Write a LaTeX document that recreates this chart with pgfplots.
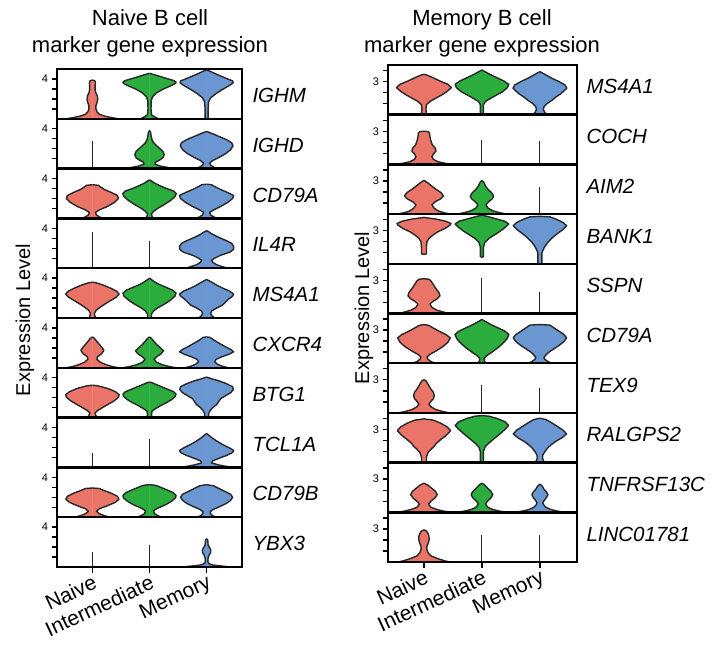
\documentclass[border=0pt]{standalone}
\usepackage{pgfplots}
\pgfplotsset{compat=1.18}
\usepackage{fontspec}
\setmainfont{Liberation Sans}
\definecolor{cR}{RGB}{235,116,104}
\definecolor{cG}{RGB}{42,173,60}
\definecolor{cB}{RGB}{106,150,210}
\definecolor{cO}{RGB}{40,40,40}
\newcommand\ws{57}
\pgfplotsset{
  vout/.style={draw=cO, line width=1.4pt, line join=round, mark=none},
  common/.style={scale only axis, anchor=south west, axis on top, ymin=0,
    xtick=\empty, ytick pos=left, xtick pos=left, tick align=outside,
    major tick length=5.5pt, minor tick length=5.5pt,
    tick style={black, line width=1.4pt},
    axis line style={black, line width=2.4pt},
    every outer x axis line/.append style={line width=2.4pt},
    every outer y axis line/.append style={line width=2.4pt},
    yticklabel style={font=\fontsize{11}{12}\selectfont},
    /pgf/number format/assume math mode=true},
  Lp/.style={common, width=185pt, height=49.8pt, xmin=0.38, xmax=3.62, ymax=5,
    ytick={4}, yticklabels={4}, minor ytick={1,2,3}},
  Rp/.style={common, width=189pt, height=49.7pt, xmin=0.38, xmax=3.64, ymax=4.5,
    ytick={3}, yticklabels={3}, minor ytick={1,2,4}},
  bot/.style={xtick={1,2,3}, xticklabels={Naive,Intermediate,Memory},
    xticklabel style={rotate=25, anchor=north east, inner sep=1pt, font=\fontsize{21}{23}\selectfont}}
}
\newcommand\vio[3]{%
 \addplot[fill=#2, draw=#2, line width=0.3pt] table[row sep=\\, x expr={#1+\thisrow{w}/\ws}, y=y]{y w\\#3} -- cycle;
 \addplot[fill=#2, draw=#2, line width=0.3pt] table[row sep=\\, x expr={#1-\thisrow{w}/\ws}, y=y]{y w\\#3} -- cycle;
 \addplot[vout] table[row sep=\\, x expr={#1+\thisrow{w}/\ws}, y=y]{y w\\#3};
 \addplot[vout] table[row sep=\\, x expr={#1-\thisrow{w}/\ws}, y=y]{y w\\#3};
}
\newcommand\vl[2]{\addplot[vout, line width=1.1pt] coordinates {(#1,0) (#1,#2)};}
\begin{document}
\begin{tikzpicture}
\useasboundingbox (0,0) rectangle (722pt,649pt);
% ---------------- left column ----------------
\begin{axis}[Lp, at={(57pt,530.2pt)}]
\vio{1}{cR}{0 0\\0 26\\0.1 20\\0.25 13\\0.45 7\\0.7 4.5\\1.0 3.5\\1.3 3.5\\1.6 4.5\\1.9 5.3\\2.3 5\\2.6 3.5\\2.9 2.7\\3.3 2.7\\3.6 3\\3.8 2.5\\3.9 0\\}
\vio{2}{cG}{0 0\\0 9\\0.15 6\\0.4 2\\1.0 1.5\\1.8 1.7\\2.2 3\\2.6 7\\3.0 14\\3.3 21\\3.55 26\\3.7 26.5\\3.85 24\\4.05 17\\4.3 9\\4.45 4\\4.57 0\\}
\vio{3}{cB}{0 0\\0 1.5\\1.0 1.5\\1.7 2\\2.1 4\\2.5 9\\2.9 15\\3.3 22\\3.6 26.5\\3.8 26\\4.0 21\\4.3 14\\4.6 7\\4.8 3\\4.9 0\\}
\end{axis}
\begin{axis}[Lp, at={(57pt,480.4pt)}]
\vl{1}{2.73}
\vio{2}{cG}{0 0\\0 25.5\\0.1 19\\0.25 11\\0.45 5.5\\0.65 6\\0.85 10\\1.1 13.5\\1.4 14.7\\1.7 13.5\\2.0 10.5\\2.3 7\\2.6 4\\2.9 2.5\\3.3 1.6\\3.6 1.2\\3.83 0\\}
\vio{3}{cB}{0 0\\0 11\\0.15 7\\0.35 4\\0.55 3\\0.8 6\\1.1 12\\1.5 19\\1.9 24\\2.3 26.3\\2.6 25\\2.9 20\\3.2 13\\3.5 6\\3.73 0\\}
\end{axis}
\begin{axis}[Lp, at={(57pt,430.6pt)}]
\vio{1}{cR}{0 0\\0 11\\0.15 7\\0.35 4\\0.6 3\\0.85 7\\1.2 15\\1.6 22\\2.0 26\\2.3 25\\2.6 19\\2.9 12\\3.2 7.5\\3.32 6\\3.38 0\\}
\vio{2}{cG}{0 0\\0 4\\0.2 2.5\\0.45 2\\0.7 4\\1.0 8\\1.4 15\\1.8 21\\2.2 25.5\\2.5 26.7\\2.75 24\\3.0 17\\3.3 10\\3.55 5\\3.75 2\\3.87 0\\}
\vio{3}{cB}{0 0\\0 11\\0.15 7\\0.35 4\\0.6 3\\0.85 7\\1.2 14\\1.6 21\\2.0 26\\2.3 27\\2.6 21\\2.9 14\\3.2 8\\3.38 5\\3.43 0\\}
\end{axis}
\begin{axis}[Lp, at={(57pt,380.8pt)}]
\vl{1}{3.6}
\vl{2}{2.77}
\vio{3}{cB}{0 0\\0 21\\0.15 16\\0.35 10\\0.6 6\\0.8 5\\1.0 8\\1.3 14\\1.6 23\\1.9 27\\2.2 27\\2.5 25\\2.8 19\\3.1 12\\3.4 6\\3.6 3\\3.77 0\\}
\end{axis}
\begin{axis}[Lp, at={(57pt,331.0pt)}]
\vio{1}{cR}{0 0\\0 3\\0.2 2.5\\0.5 2\\0.8 4\\1.1 8\\1.5 14\\1.8 19\\2.1 24\\2.4 26.7\\2.7 24\\3.0 18\\3.3 11\\3.5 5\\3.6 0\\}
\vio{2}{cG}{0 0\\0 2\\0.4 2\\0.7 4\\1.0 8\\1.4 15\\1.8 21\\2.2 25.5\\2.5 26.5\\2.8 23\\3.1 16\\3.4 9\\3.7 4\\3.85 2\\4.0 0\\}
\vio{3}{cB}{0 0\\0 8\\0.2 5.5\\0.45 4\\0.7 5\\1.0 10\\1.3 16\\1.6 19\\1.9 22\\2.2 26\\2.4 27\\2.7 23\\3.0 16\\3.3 10\\3.6 5\\3.87 0\\}
\end{axis}
\begin{axis}[Lp, at={(57pt,281.2pt)}]
\vio{1}{cR}{0 0\\0 26.5\\0.12 20\\0.3 14\\0.55 8\\0.85 4.5\\1.1 5\\1.4 9\\1.75 11.5\\2.05 9.5\\2.4 6.5\\2.7 4\\2.95 2\\3.1 0\\}
\vio{2}{cG}{0 0\\0 26.7\\0.12 20\\0.3 13\\0.55 7\\0.85 4.5\\1.1 7\\1.4 11.5\\1.7 14\\2.0 11\\2.35 7\\2.7 4\\2.95 2\\3.1 0\\}
\vio{3}{cB}{0 0\\0 21.7\\0.15 16\\0.35 11\\0.6 8\\0.85 9.5\\1.1 15\\1.35 22\\1.6 27\\1.85 24\\2.15 18\\2.5 12\\2.8 7\\3.05 3.5\\3.1 0\\}
\end{axis}
\begin{axis}[Lp, at={(57pt,231.4pt)}]
\vio{1}{cR}{0 0\\0 5\\0.2 3.5\\0.45 2.5\\0.7 5\\1.0 10\\1.35 16\\1.7 22\\2.05 26\\2.3 26.7\\2.6 23\\2.9 16\\3.1 9\\3.2 5\\3.25 0\\}
\vio{2}{cG}{0 0\\0 2.5\\0.3 2\\0.65 2.5\\0.9 6\\1.2 11\\1.5 17\\1.8 22\\2.1 25.5\\2.35 26.5\\2.6 24\\2.85 18\\3.1 12\\3.35 6\\3.5 2.5\\3.57 0\\}
\vio{3}{cB}{0 0\\0 2\\0.4 2\\0.7 3.5\\1.0 6\\1.3 10\\1.6 12\\1.9 14\\2.2 19\\2.5 24\\2.8 26.7\\3.1 26\\3.4 20\\3.7 12\\3.9 5\\4.07 0\\}
\end{axis}
\begin{axis}[Lp, at={(57pt,181.6pt)}]
\vl{1}{1.43}
\vl{2}{2.9}
\vio{3}{cB}{0 0\\0 26\\0.1 20\\0.25 12\\0.45 5\\0.65 6\\0.9 12\\1.2 20\\1.5 26\\1.7 27\\1.95 23\\2.3 16\\2.65 10\\3.0 5\\3.25 2\\3.4 0\\}
\end{axis}
\begin{axis}[Lp, at={(57pt,131.8pt)}]
\vio{1}{cR}{0 0\\0 17.5\\0.15 12\\0.35 7\\0.6 4\\0.85 7\\1.15 15\\1.5 23\\1.8 26.5\\2.1 25\\2.4 19\\2.7 11\\2.88 7\\2.93 0\\}
\vio{2}{cG}{0 0\\0 12.5\\0.15 8.5\\0.35 5\\0.65 4\\0.9 8\\1.25 16\\1.6 22\\1.95 26\\2.2 26.5\\2.5 23\\2.8 16\\3.05 10\\3.2 6\\3.27 0\\}
\vio{3}{cB}{0 0\\0 9\\0.15 6\\0.35 4\\0.55 3.5\\0.8 7\\1.1 14\\1.4 20\\1.7 24\\2.0 26\\2.3 24\\2.6 18\\2.9 12\\3.15 7\\3.27 0\\}
\end{axis}
\begin{axis}[Lp, bot, at={(57pt,82.0pt)}]
\vl{1}{1.5}
\vl{2}{2.17}
\vio{3}{cB}{0 0\\0 24\\0.1 15\\0.2 6\\0.35 2\\0.6 1.2\\0.9 1.5\\1.2 2.5\\1.45 4\\1.7 4.2\\1.95 3\\2.2 1.5\\2.5 1.3\\2.75 1\\2.83 0\\}
\end{axis}
% ---------------- right column ----------------
\renewcommand\ws{58}
\begin{axis}[Rp, at={(388pt,534.3pt)}]
\vio{1}{cR}{0 0\\0 2.5\\0.5 2\\0.9 2.5\\1.2 6\\1.5 12\\1.8 18\\2.1 23\\2.45 27.5\\2.75 24\\3.05 16\\3.35 9\\3.55 4\\3.66 0\\}
\vio{2}{cG}{0 0\\0 1.5\\0.9 1.5\\1.2 3.5\\1.5 9\\1.8 15\\2.1 21\\2.45 25.5\\2.75 26.8\\3.05 22\\3.35 15\\3.65 8\\3.9 3\\4.05 0\\}
\vio{3}{cB}{0 0\\0 7\\0.2 5\\0.45 3.5\\0.7 4\\1.0 7\\1.3 12\\1.6 16\\1.9 21\\2.15 24\\2.4 27\\2.7 25\\3.0 19\\3.3 12\\3.6 6\\3.9 0\\}
\end{axis}
\begin{axis}[Rp, at={(388pt,484.6pt)}]
\vio{1}{cR}{0 0\\0 27.5\\0.1 21\\0.25 14\\0.45 9.5\\0.7 8\\0.95 9.5\\1.2 12\\1.45 11.5\\1.75 8.5\\2.1 7\\2.5 6\\2.85 5.5\\2.97 4\\3.0 0\\}
\vl{2}{2.25}
\vl{3}{2.1}
\end{axis}
\begin{axis}[Rp, at={(388pt,434.9pt)}]
\vio{1}{cR}{0 0\\0 26.7\\0.12 20\\0.3 14\\0.55 10\\0.85 8\\1.1 11\\1.4 17\\1.65 19.5\\1.95 17\\2.25 12\\2.55 7.5\\2.85 3.5\\3.06 0\\}
\vio{2}{cG}{0 0\\0 25\\0.12 18\\0.3 11\\0.55 6\\0.85 4\\1.1 6.5\\1.4 10.5\\1.65 11.7\\1.95 9.5\\2.25 6\\2.55 3.5\\2.85 2\\3.06 0\\}
\vl{3}{2.46}
\end{axis}
\begin{axis}[Rp, at={(388pt,385.2pt)}]
\vio{1}{cR}{0.85 0\\0.9 2.5\\1.5 2.5\\2.0 3\\2.3 5\\2.6 9\\2.9 14\\3.2 21\\3.5 26\\3.65 27\\3.85 22\\4.05 12\\4.2 0\\}
\vio{2}{cG}{0.6 0\\0.65 1.5\\1.5 1.5\\1.95 3\\2.3 7\\2.7 14\\3.0 19\\3.35 24\\3.6 26.8\\3.85 23\\4.1 13\\4.3 5\\4.4 0\\}
\vio{3}{cB}{0 0\\0 2\\1.0 2\\1.5 4.5\\1.95 8\\2.4 13\\2.7 17\\3.1 23\\3.45 26.7\\3.75 23\\4.05 16\\4.25 10\\4.3 0\\}
\end{axis}
\begin{axis}[Rp, at={(388pt,335.5pt)}]
\vio{1}{cR}{0 0\\0 26\\0.12 20\\0.3 13\\0.55 8\\0.85 6\\1.1 9\\1.35 13.5\\1.6 16\\1.9 15\\2.25 12\\2.6 9.5\\2.95 7\\3.1 5\\3.15 0\\}
\vl{2}{3.24}
\vl{3}{1.95}
\end{axis}
\begin{axis}[Rp, at={(388pt,285.8pt)}]
\vio{1}{cR}{0 0\\0 11\\0.15 7\\0.35 4\\0.55 3\\0.8 6\\1.1 12\\1.5 19\\1.9 24\\2.3 26.3\\2.6 22\\2.9 15\\3.2 9\\3.42 5\\3.5 0\\}
\vio{2}{cG}{0 0\\0 4\\0.2 2.5\\0.4 2\\0.7 5\\1.0 10\\1.4 16\\1.8 21\\2.2 25\\2.6 27\\2.9 23\\3.2 16\\3.5 9\\3.75 4\\3.96 0\\}
\vio{3}{cB}{0 0\\0 11.7\\0.15 8\\0.35 5\\0.5 4\\0.75 6\\1.0 9\\1.3 14\\1.6 19\\1.95 24\\2.3 26.7\\2.6 24\\2.9 19\\3.2 14\\3.45 10\\3.5 0\\}
\end{axis}
\begin{axis}[Rp, at={(388pt,236.1pt)}]
\vio{1}{cR}{0 0\\0 26\\0.12 19\\0.3 12\\0.55 7\\0.8 5\\1.05 7\\1.3 9.5\\1.55 10.3\\1.85 9.5\\2.15 7\\2.45 5\\2.7 3.5\\2.9 2\\3.0 0\\}
\vl{2}{2.52}
\vl{3}{2.22}
\end{axis}
\begin{axis}[Rp, at={(388pt,186.4pt)}]
\vio{1}{cR}{0 0\\0 2.5\\0.5 2.5\\0.9 4\\1.2 7\\1.45 10\\1.75 12.5\\2.1 17\\2.45 22\\2.9 26.7\\3.25 23\\3.6 16\\3.85 9\\3.96 0\\}
\vio{2}{cG}{0 0\\0 1.5\\1.0 1.5\\1.4 3\\1.7 6\\2.0 10\\2.3 14\\2.6 18\\3.0 23\\3.36 26.7\\3.7 23\\4.0 15\\4.2 7\\4.26 0\\}
\vio{3}{cB}{0 0\\0 4.5\\0.2 3.5\\0.45 2.5\\0.7 3\\1.0 5\\1.3 7.5\\1.6 11\\1.9 15.5\\2.25 22\\2.6 26.7\\2.95 23\\3.3 17\\3.65 11\\3.9 6\\4.02 0\\}
\end{axis}
\begin{axis}[Rp, at={(388pt,136.7pt)}]
\vio{1}{cR}{0 0\\0 26.7\\0.1 20\\0.25 13\\0.45 7\\0.75 4.5\\1.0 7\\1.3 11\\1.6 13.3\\1.9 11.5\\2.2 7.5\\2.45 4\\2.64 0\\}
\vio{2}{cG}{0 0\\0 25\\0.1 18\\0.25 11\\0.45 6\\0.75 3.5\\1.0 5.5\\1.3 9\\1.6 10.8\\1.9 9\\2.2 5.5\\2.45 3\\2.64 0\\}
\vio{3}{cB}{0 0\\0 25.8\\0.1 18\\0.25 11\\0.45 6\\0.7 3.5\\0.9 3\\1.15 5\\1.4 7\\1.6 8\\1.85 6.5\\2.1 4\\2.35 2.5\\2.55 0\\}
\end{axis}
\begin{axis}[Rp, bot, at={(388pt,87.0pt)}]
\vio{1}{cR}{0 0\\0 25.8\\0.1 21\\0.3 14\\0.55 7\\0.85 4\\1.2 2.8\\1.45 3\\1.75 4.5\\2.05 5.2\\2.35 5\\2.6 4\\2.8 2.5\\2.91 0\\}
\vl{2}{2.49}
\vl{3}{2.49}
\end{axis}
% ---------------- texts ----------------
\node[align=center, font=\fontsize{22}{27}\selectfont] at (150pt,615.5pt) {Naive B cell\\marker gene expression};
\node[align=center, font=\fontsize{22}{27}\selectfont] at (482pt,615.5pt) {Memory B cell\\marker gene expression};
\node[rotate=90, font=\fontsize{20}{22}\selectfont] at (25pt,329pt) {Expression Level};
\node[rotate=90, font=\fontsize{20}{22}\selectfont] at (364pt,341pt) {Expression Level};
\begin{scope}[every node/.style={anchor=west, font=\fontsize{20.5}{22}\selectfont\itshape}]
\node at (249pt,553.6pt) {IGHM};
\node at (249pt,503.8pt) {IGHD};
\node at (249pt,454.0pt) {CD79A};
\node at (249pt,404.2pt) {IL4R};
\node at (249pt,354.4pt) {MS4A1};
\node at (249pt,304.6pt) {CXCR4};
\node at (249pt,254.8pt) {BTG1};
\node at (249pt,205.0pt) {TCL1A};
\node at (249pt,155.2pt) {CD79B};
\node at (249pt,105.4pt) {YBX3};
\node at (583pt,562.1pt) {MS4A1};
\node at (583pt,512.4pt) {COCH};
\node at (583pt,462.7pt) {AIM2};
\node at (583pt,413.0pt) {BANK1};
\node at (583pt,363.3pt) {SSPN};
\node at (583pt,313.6pt) {CD79A};
\node at (583pt,263.9pt) {TEX9};
\node at (583pt,214.2pt) {RALGPS2};
\node at (583pt,164.5pt) {TNFRSF13C};
\node at (583pt,114.8pt) {LINC01781};
\end{scope}
\end{tikzpicture}
\end{document}
